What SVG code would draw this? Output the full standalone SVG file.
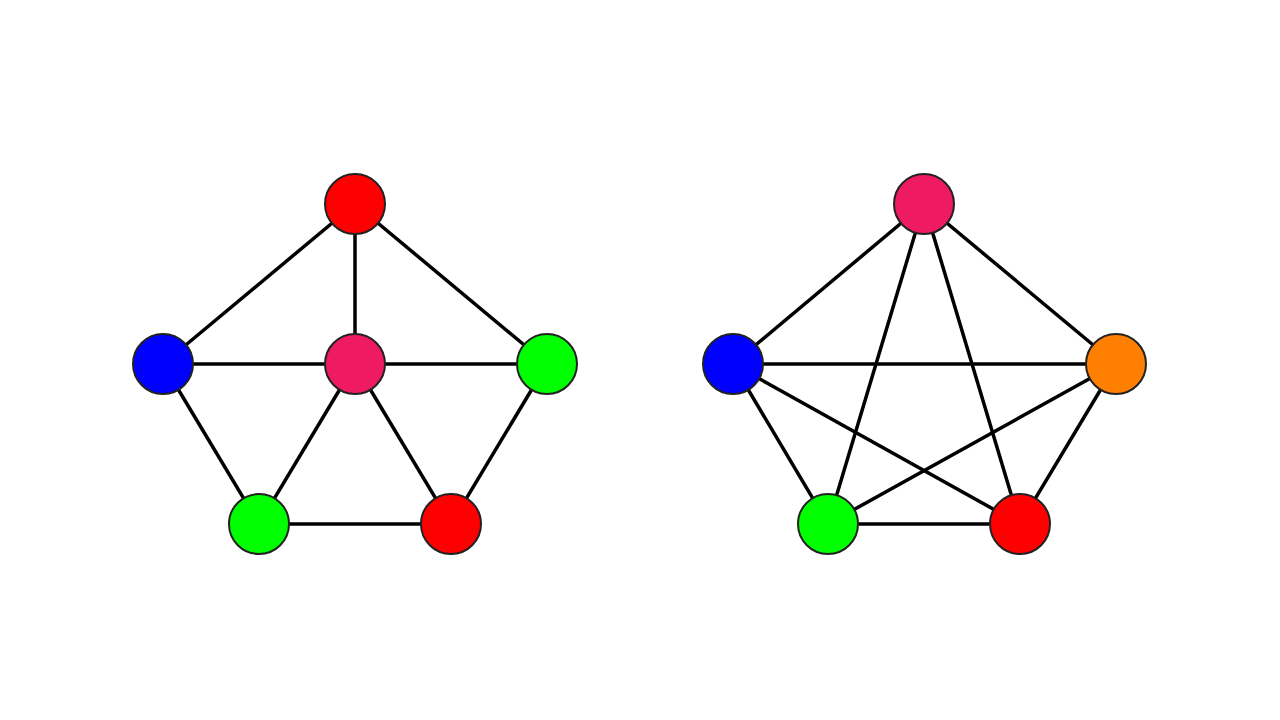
<svg xmlns="http://www.w3.org/2000/svg" width="1280" height="720" viewBox="0 0 1280 720">
<style>
.e{stroke:#000;stroke-width:3.5;fill:none}
.n{stroke:#222;stroke-width:2}
</style>
<rect width="1280" height="720" fill="#fff"/>
<g id="connectors" class="e">
<line x1="355" y1="204" x2="163" y2="364"/>
<line x1="355" y1="204" x2="355" y2="364"/>
<line x1="355" y1="204" x2="547" y2="364"/>
<line x1="163" y1="364" x2="547" y2="364"/>
<line x1="163" y1="364" x2="259" y2="524"/>
<line x1="355" y1="364" x2="259" y2="524"/>
<line x1="355" y1="364" x2="451" y2="524"/>
<line x1="547" y1="364" x2="451" y2="524"/>
<line x1="259" y1="524" x2="451" y2="524"/>
<line x1="924" y1="204" x2="733" y2="364"/>
<line x1="924" y1="204" x2="1116" y2="364"/>
<line x1="924" y1="204" x2="828" y2="524"/>
<line x1="924" y1="204" x2="1020" y2="524"/>
<line x1="733" y1="364" x2="1116" y2="364"/>
<line x1="733" y1="364" x2="828" y2="524"/>
<line x1="733" y1="364" x2="1020" y2="524"/>
<line x1="1116" y1="364" x2="828" y2="524"/>
<line x1="1116" y1="364" x2="1020" y2="524"/>
<line x1="828" y1="524" x2="1020" y2="524"/>
</g>
<g id="l-top"><circle class="n" cx="355" cy="204" r="30" fill="#ff0000"/></g>
<g id="l-left"><circle class="n" cx="163" cy="364" r="30" fill="#0000ff"/></g>
<g id="l-center"><circle class="n" cx="355" cy="364" r="30" fill="#ee1a62"/></g>
<g id="l-right"><circle class="n" cx="547" cy="364" r="30" fill="#00ff00"/></g>
<g id="l-bl"><circle class="n" cx="259" cy="524" r="30" fill="#00ff00"/></g>
<g id="l-br"><circle class="n" cx="451" cy="524" r="30" fill="#ff0000"/></g>
<g id="r-top"><circle class="n" cx="924" cy="204" r="30" fill="#ee1a62"/></g>
<g id="r-left"><circle class="n" cx="733" cy="364" r="30" fill="#0000ff"/></g>
<g id="r-right"><circle class="n" cx="1116" cy="364" r="30" fill="#ff8000"/></g>
<g id="r-bl"><circle class="n" cx="828" cy="524" r="30" fill="#00ff00"/></g>
<g id="r-br"><circle class="n" cx="1020" cy="524" r="30" fill="#ff0000"/></g>
</svg>
